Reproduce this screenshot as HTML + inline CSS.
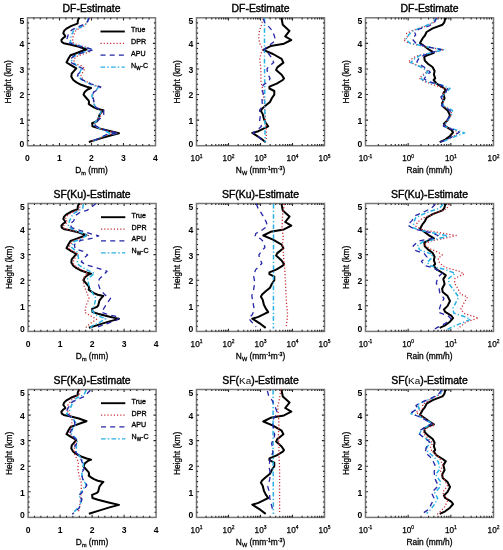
<!DOCTYPE html>
<html><head><meta charset="utf-8"><style>
html,body{margin:0;padding:0;background:#fff;width:503px;height:550px;overflow:hidden}
svg{display:block}
text{font-family:"Liberation Sans", Arial, Helvetica, sans-serif;fill:#000}
.n{font-weight:bold}
.t{stroke:#000;stroke-width:0.4px}
.k{stroke:none;font-size:9.9px}
.g{stroke:#000;stroke-width:0.3px}
.l{stroke:#000;stroke-width:0.28px}
.e{stroke:#000;stroke-width:0.25px}
</style></head><body>
<svg width="503" height="550" viewBox="0 0 503 550">
<rect width="503" height="550" fill="#fff"/>
<rect x="27.5" y="17.8" width="128.0" height="127.9" fill="none" stroke="#787878" stroke-width="1.5"/>
<path d="M27.5,140.58h1.6M155.5,140.58h-1.6M27.5,135.47h1.6M155.5,135.47h-1.6M27.5,130.35h1.6M155.5,130.35h-1.6M27.5,125.24h1.6M155.5,125.24h-1.6M27.5,120.12h2.6M155.5,120.12h-2.6M27.5,115.00h1.6M155.5,115.00h-1.6M27.5,109.89h1.6M155.5,109.89h-1.6M27.5,104.77h1.6M155.5,104.77h-1.6M27.5,99.66h1.6M155.5,99.66h-1.6M27.5,94.54h2.6M155.5,94.54h-2.6M27.5,89.42h1.6M155.5,89.42h-1.6M27.5,84.31h1.6M155.5,84.31h-1.6M27.5,79.19h1.6M155.5,79.19h-1.6M27.5,74.08h1.6M155.5,74.08h-1.6M27.5,68.96h2.6M155.5,68.96h-2.6M27.5,63.84h1.6M155.5,63.84h-1.6M27.5,58.73h1.6M155.5,58.73h-1.6M27.5,53.61h1.6M155.5,53.61h-1.6M27.5,48.50h1.6M155.5,48.50h-1.6M27.5,43.38h2.6M155.5,43.38h-2.6M27.5,38.26h1.6M155.5,38.26h-1.6M27.5,33.15h1.6M155.5,33.15h-1.6M27.5,28.03h1.6M155.5,28.03h-1.6M27.5,22.92h1.6M155.5,22.92h-1.6M33.90,145.70000000000002v-1.6M33.90,17.8v1.6M40.30,145.70000000000002v-1.6M40.30,17.8v1.6M46.70,145.70000000000002v-1.6M46.70,17.8v1.6M53.10,145.70000000000002v-1.6M53.10,17.8v1.6M59.50,145.70000000000002v-2.6M59.50,17.8v2.6M65.90,145.70000000000002v-1.6M65.90,17.8v1.6M72.30,145.70000000000002v-1.6M72.30,17.8v1.6M78.70,145.70000000000002v-1.6M78.70,17.8v1.6M85.10,145.70000000000002v-1.6M85.10,17.8v1.6M91.50,145.70000000000002v-2.6M91.50,17.8v2.6M97.90,145.70000000000002v-1.6M97.90,17.8v1.6M104.30,145.70000000000002v-1.6M104.30,17.8v1.6M110.70,145.70000000000002v-1.6M110.70,17.8v1.6M117.10,145.70000000000002v-1.6M117.10,17.8v1.6M123.50,145.70000000000002v-2.6M123.50,17.8v2.6M129.90,145.70000000000002v-1.6M129.90,17.8v1.6M136.30,145.70000000000002v-1.6M136.30,17.8v1.6M142.70,145.70000000000002v-1.6M142.70,17.8v1.6M149.10,145.70000000000002v-1.6M149.10,17.8v1.6" stroke="#2a2a2a" stroke-width="1.1" fill="none"/>
<text x="91.5" y="11.80" text-anchor="middle" font-size="10.45" class="t">DF-Estimate</text>
<text x="24.3" y="146.70" text-anchor="end" font-size="8.6" class="n">0</text>
<text x="24.3" y="124.02" text-anchor="end" font-size="8.6" class="n">1</text>
<text x="24.3" y="98.44" text-anchor="end" font-size="8.6" class="n">2</text>
<text x="24.3" y="72.86" text-anchor="end" font-size="8.6" class="n">3</text>
<text x="24.3" y="47.28" text-anchor="end" font-size="8.6" class="n">4</text>
<text x="24.3" y="24.30" text-anchor="end" font-size="8.6" class="n">5</text>
<text transform="translate(11.20,81.75) rotate(-90)" text-anchor="middle" font-size="8.4" class="l">Height (km)</text>
<text x="27.50" y="161.00" text-anchor="middle" font-size="8.6" class="n">0</text>
<text x="59.50" y="161.00" text-anchor="middle" font-size="8.6" class="n">1</text>
<text x="91.50" y="161.00" text-anchor="middle" font-size="8.6" class="n">2</text>
<text x="123.50" y="161.00" text-anchor="middle" font-size="8.6" class="n">3</text>
<text x="155.50" y="161.00" text-anchor="middle" font-size="8.6" class="n">4</text>
<text x="91.5" y="173.30" text-anchor="middle" font-size="8.4" class="l">D<tspan font-size="5.5" dy="2">m</tspan><tspan dy="-2"> (mm)</tspan></text>
<rect x="196.5" y="17.8" width="128.0" height="127.9" fill="none" stroke="#787878" stroke-width="1.5"/>
<path d="M196.5,140.58h1.6M324.5,140.58h-1.6M196.5,135.47h1.6M324.5,135.47h-1.6M196.5,130.35h1.6M324.5,130.35h-1.6M196.5,125.24h1.6M324.5,125.24h-1.6M196.5,120.12h2.6M324.5,120.12h-2.6M196.5,115.00h1.6M324.5,115.00h-1.6M196.5,109.89h1.6M324.5,109.89h-1.6M196.5,104.77h1.6M324.5,104.77h-1.6M196.5,99.66h1.6M324.5,99.66h-1.6M196.5,94.54h2.6M324.5,94.54h-2.6M196.5,89.42h1.6M324.5,89.42h-1.6M196.5,84.31h1.6M324.5,84.31h-1.6M196.5,79.19h1.6M324.5,79.19h-1.6M196.5,74.08h1.6M324.5,74.08h-1.6M196.5,68.96h2.6M324.5,68.96h-2.6M196.5,63.84h1.6M324.5,63.84h-1.6M196.5,58.73h1.6M324.5,58.73h-1.6M196.5,53.61h1.6M324.5,53.61h-1.6M196.5,48.50h1.6M324.5,48.50h-1.6M196.5,43.38h2.6M324.5,43.38h-2.6M196.5,38.26h1.6M324.5,38.26h-1.6M196.5,33.15h1.6M324.5,33.15h-1.6M196.5,28.03h1.6M324.5,28.03h-1.6M196.5,22.92h1.6M324.5,22.92h-1.6M206.13,145.70000000000002v-1.6M206.13,17.8v1.6M211.77,145.70000000000002v-1.6M211.77,17.8v1.6M215.77,145.70000000000002v-1.6M215.77,17.8v1.6M218.87,145.70000000000002v-1.6M218.87,17.8v1.6M221.40,145.70000000000002v-1.6M221.40,17.8v1.6M223.54,145.70000000000002v-1.6M223.54,17.8v1.6M225.40,145.70000000000002v-1.6M225.40,17.8v1.6M227.04,145.70000000000002v-1.6M227.04,17.8v1.6M228.50,145.70000000000002v-2.6M228.50,17.8v2.6M238.13,145.70000000000002v-1.6M238.13,17.8v1.6M243.77,145.70000000000002v-1.6M243.77,17.8v1.6M247.77,145.70000000000002v-1.6M247.77,17.8v1.6M250.87,145.70000000000002v-1.6M250.87,17.8v1.6M253.40,145.70000000000002v-1.6M253.40,17.8v1.6M255.54,145.70000000000002v-1.6M255.54,17.8v1.6M257.40,145.70000000000002v-1.6M257.40,17.8v1.6M259.04,145.70000000000002v-1.6M259.04,17.8v1.6M260.50,145.70000000000002v-2.6M260.50,17.8v2.6M270.13,145.70000000000002v-1.6M270.13,17.8v1.6M275.77,145.70000000000002v-1.6M275.77,17.8v1.6M279.77,145.70000000000002v-1.6M279.77,17.8v1.6M282.87,145.70000000000002v-1.6M282.87,17.8v1.6M285.40,145.70000000000002v-1.6M285.40,17.8v1.6M287.54,145.70000000000002v-1.6M287.54,17.8v1.6M289.40,145.70000000000002v-1.6M289.40,17.8v1.6M291.04,145.70000000000002v-1.6M291.04,17.8v1.6M292.50,145.70000000000002v-2.6M292.50,17.8v2.6M302.13,145.70000000000002v-1.6M302.13,17.8v1.6M307.77,145.70000000000002v-1.6M307.77,17.8v1.6M311.77,145.70000000000002v-1.6M311.77,17.8v1.6M314.87,145.70000000000002v-1.6M314.87,17.8v1.6M317.40,145.70000000000002v-1.6M317.40,17.8v1.6M319.54,145.70000000000002v-1.6M319.54,17.8v1.6M321.40,145.70000000000002v-1.6M321.40,17.8v1.6M323.04,145.70000000000002v-1.6M323.04,17.8v1.6" stroke="#2a2a2a" stroke-width="1.1" fill="none"/>
<text x="260.5" y="11.80" text-anchor="middle" font-size="10.45" class="t">DF-Estimate</text>
<text x="193.3" y="146.70" text-anchor="end" font-size="8.6" class="n">0</text>
<text x="193.3" y="124.02" text-anchor="end" font-size="8.6" class="n">1</text>
<text x="193.3" y="98.44" text-anchor="end" font-size="8.6" class="n">2</text>
<text x="193.3" y="72.86" text-anchor="end" font-size="8.6" class="n">3</text>
<text x="193.3" y="47.28" text-anchor="end" font-size="8.6" class="n">4</text>
<text x="193.3" y="24.30" text-anchor="end" font-size="8.6" class="n">5</text>
<text transform="translate(180.20,81.75) rotate(-90)" text-anchor="middle" font-size="8.4" class="l">Height (km)</text>
<text x="196.50" y="161.00" text-anchor="middle" font-size="8.2" class="e">10<tspan font-size="4.9" dy="-3.5">1</tspan></text>
<text x="228.50" y="161.00" text-anchor="middle" font-size="8.2" class="e">10<tspan font-size="4.9" dy="-3.5">2</tspan></text>
<text x="260.50" y="161.00" text-anchor="middle" font-size="8.2" class="e">10<tspan font-size="4.9" dy="-3.5">3</tspan></text>
<text x="292.50" y="161.00" text-anchor="middle" font-size="8.2" class="e">10<tspan font-size="4.9" dy="-3.5">4</tspan></text>
<text x="324.50" y="161.00" text-anchor="middle" font-size="8.2" class="e">10<tspan font-size="4.9" dy="-3.5">5</tspan></text>
<text x="260.5" y="173.30" text-anchor="middle" font-size="8.4" class="l">N<tspan font-size="5.5" dy="2">W</tspan><tspan dy="-2"> (mm</tspan><tspan font-size="5.2" dy="-3">-1</tspan><tspan dy="3">m</tspan><tspan font-size="5.2" dy="-3">-3</tspan><tspan dy="3">)</tspan></text>
<rect x="365.5" y="17.8" width="128.0" height="127.9" fill="none" stroke="#787878" stroke-width="1.5"/>
<path d="M365.5,140.58h1.6M493.5,140.58h-1.6M365.5,135.47h1.6M493.5,135.47h-1.6M365.5,130.35h1.6M493.5,130.35h-1.6M365.5,125.24h1.6M493.5,125.24h-1.6M365.5,120.12h2.6M493.5,120.12h-2.6M365.5,115.00h1.6M493.5,115.00h-1.6M365.5,109.89h1.6M493.5,109.89h-1.6M365.5,104.77h1.6M493.5,104.77h-1.6M365.5,99.66h1.6M493.5,99.66h-1.6M365.5,94.54h2.6M493.5,94.54h-2.6M365.5,89.42h1.6M493.5,89.42h-1.6M365.5,84.31h1.6M493.5,84.31h-1.6M365.5,79.19h1.6M493.5,79.19h-1.6M365.5,74.08h1.6M493.5,74.08h-1.6M365.5,68.96h2.6M493.5,68.96h-2.6M365.5,63.84h1.6M493.5,63.84h-1.6M365.5,58.73h1.6M493.5,58.73h-1.6M365.5,53.61h1.6M493.5,53.61h-1.6M365.5,48.50h1.6M493.5,48.50h-1.6M365.5,43.38h2.6M493.5,43.38h-2.6M365.5,38.26h1.6M493.5,38.26h-1.6M365.5,33.15h1.6M493.5,33.15h-1.6M365.5,28.03h1.6M493.5,28.03h-1.6M365.5,22.92h1.6M493.5,22.92h-1.6M378.34,145.70000000000002v-1.6M378.34,17.8v1.6M385.86,145.70000000000002v-1.6M385.86,17.8v1.6M391.19,145.70000000000002v-1.6M391.19,17.8v1.6M395.32,145.70000000000002v-1.6M395.32,17.8v1.6M398.70,145.70000000000002v-1.6M398.70,17.8v1.6M401.56,145.70000000000002v-1.6M401.56,17.8v1.6M404.03,145.70000000000002v-1.6M404.03,17.8v1.6M406.21,145.70000000000002v-1.6M406.21,17.8v1.6M408.17,145.70000000000002v-2.6M408.17,17.8v2.6M421.01,145.70000000000002v-1.6M421.01,17.8v1.6M428.52,145.70000000000002v-1.6M428.52,17.8v1.6M433.85,145.70000000000002v-1.6M433.85,17.8v1.6M437.99,145.70000000000002v-1.6M437.99,17.8v1.6M441.37,145.70000000000002v-1.6M441.37,17.8v1.6M444.22,145.70000000000002v-1.6M444.22,17.8v1.6M446.70,145.70000000000002v-1.6M446.70,17.8v1.6M448.88,145.70000000000002v-1.6M448.88,17.8v1.6M450.83,145.70000000000002v-2.6M450.83,17.8v2.6M463.68,145.70000000000002v-1.6M463.68,17.8v1.6M471.19,145.70000000000002v-1.6M471.19,17.8v1.6M476.52,145.70000000000002v-1.6M476.52,17.8v1.6M480.66,145.70000000000002v-1.6M480.66,17.8v1.6M484.03,145.70000000000002v-1.6M484.03,17.8v1.6M486.89,145.70000000000002v-1.6M486.89,17.8v1.6M489.37,145.70000000000002v-1.6M489.37,17.8v1.6M491.55,145.70000000000002v-1.6M491.55,17.8v1.6" stroke="#2a2a2a" stroke-width="1.1" fill="none"/>
<text x="429.5" y="11.80" text-anchor="middle" font-size="10.45" class="t">DF-Estimate</text>
<text x="362.3" y="146.70" text-anchor="end" font-size="8.6" class="n">0</text>
<text x="362.3" y="124.02" text-anchor="end" font-size="8.6" class="n">1</text>
<text x="362.3" y="98.44" text-anchor="end" font-size="8.6" class="n">2</text>
<text x="362.3" y="72.86" text-anchor="end" font-size="8.6" class="n">3</text>
<text x="362.3" y="47.28" text-anchor="end" font-size="8.6" class="n">4</text>
<text x="362.3" y="24.30" text-anchor="end" font-size="8.6" class="n">5</text>
<text transform="translate(349.20,81.75) rotate(-90)" text-anchor="middle" font-size="8.4" class="l">Height (km)</text>
<text x="365.50" y="161.00" text-anchor="middle" font-size="8.2" class="e">10<tspan font-size="4.9" dy="-3.5">-1</tspan></text>
<text x="408.17" y="161.00" text-anchor="middle" font-size="8.2" class="e">10<tspan font-size="4.9" dy="-3.5">0</tspan></text>
<text x="450.83" y="161.00" text-anchor="middle" font-size="8.2" class="e">10<tspan font-size="4.9" dy="-3.5">1</tspan></text>
<text x="493.50" y="161.00" text-anchor="middle" font-size="8.2" class="e">10<tspan font-size="4.9" dy="-3.5">2</tspan></text>
<text x="429.5" y="173.30" text-anchor="middle" font-size="8.4" class="l">Rain (mm/h)</text>
<line x1="100.50" y1="31.50" x2="124.80" y2="31.50" stroke="#000" stroke-width="1.9" />
<text x="131.10" y="32.00" font-size="7.1" class="g">True</text>
<line x1="100.50" y1="43.40" x2="124.80" y2="43.40" stroke="#c8303c" stroke-width="1.3" stroke-dasharray="1.2,2"/>
<text x="131.10" y="43.90" font-size="7.1" class="g">DPR</text>
<line x1="100.50" y1="55.10" x2="124.80" y2="55.10" stroke="#2626a8" stroke-width="1.3" stroke-dasharray="5,4.2"/>
<text x="131.10" y="55.60" font-size="7.1" class="g">APU</text>
<line x1="100.50" y1="67.20" x2="124.80" y2="67.20" stroke="#28b0e4" stroke-width="1.2" stroke-dasharray="4.7,2,1.6,2.2"/>
<text x="131.10" y="67.70" font-size="7.1" class="g">N<tspan font-size="4.6" dy="1.8">W</tspan><tspan dy="-1.8">-C</tspan></text>
<rect x="28.1" y="203.5" width="128.0" height="127.9" fill="none" stroke="#787878" stroke-width="1.5"/>
<path d="M28.1,326.28h1.6M156.1,326.28h-1.6M28.1,321.17h1.6M156.1,321.17h-1.6M28.1,316.05h1.6M156.1,316.05h-1.6M28.1,310.94h1.6M156.1,310.94h-1.6M28.1,305.82h2.6M156.1,305.82h-2.6M28.1,300.70h1.6M156.1,300.70h-1.6M28.1,295.59h1.6M156.1,295.59h-1.6M28.1,290.47h1.6M156.1,290.47h-1.6M28.1,285.36h1.6M156.1,285.36h-1.6M28.1,280.24h2.6M156.1,280.24h-2.6M28.1,275.12h1.6M156.1,275.12h-1.6M28.1,270.01h1.6M156.1,270.01h-1.6M28.1,264.89h1.6M156.1,264.89h-1.6M28.1,259.78h1.6M156.1,259.78h-1.6M28.1,254.66h2.6M156.1,254.66h-2.6M28.1,249.54h1.6M156.1,249.54h-1.6M28.1,244.43h1.6M156.1,244.43h-1.6M28.1,239.31h1.6M156.1,239.31h-1.6M28.1,234.20h1.6M156.1,234.20h-1.6M28.1,229.08h2.6M156.1,229.08h-2.6M28.1,223.96h1.6M156.1,223.96h-1.6M28.1,218.85h1.6M156.1,218.85h-1.6M28.1,213.73h1.6M156.1,213.73h-1.6M28.1,208.62h1.6M156.1,208.62h-1.6M34.50,331.4v-1.6M34.50,203.5v1.6M40.90,331.4v-1.6M40.90,203.5v1.6M47.30,331.4v-1.6M47.30,203.5v1.6M53.70,331.4v-1.6M53.70,203.5v1.6M60.10,331.4v-2.6M60.10,203.5v2.6M66.50,331.4v-1.6M66.50,203.5v1.6M72.90,331.4v-1.6M72.90,203.5v1.6M79.30,331.4v-1.6M79.30,203.5v1.6M85.70,331.4v-1.6M85.70,203.5v1.6M92.10,331.4v-2.6M92.10,203.5v2.6M98.50,331.4v-1.6M98.50,203.5v1.6M104.90,331.4v-1.6M104.90,203.5v1.6M111.30,331.4v-1.6M111.30,203.5v1.6M117.70,331.4v-1.6M117.70,203.5v1.6M124.10,331.4v-2.6M124.10,203.5v2.6M130.50,331.4v-1.6M130.50,203.5v1.6M136.90,331.4v-1.6M136.90,203.5v1.6M143.30,331.4v-1.6M143.30,203.5v1.6M149.70,331.4v-1.6M149.70,203.5v1.6" stroke="#2a2a2a" stroke-width="1.1" fill="none"/>
<text x="92.1" y="197.50" text-anchor="middle" font-size="10.45" class="t">SF(Ku)-Estimate</text>
<text x="24.900000000000002" y="332.40" text-anchor="end" font-size="8.6" class="n">0</text>
<text x="24.900000000000002" y="309.72" text-anchor="end" font-size="8.6" class="n">1</text>
<text x="24.900000000000002" y="284.14" text-anchor="end" font-size="8.6" class="n">2</text>
<text x="24.900000000000002" y="258.56" text-anchor="end" font-size="8.6" class="n">3</text>
<text x="24.900000000000002" y="232.98" text-anchor="end" font-size="8.6" class="n">4</text>
<text x="24.900000000000002" y="210.00" text-anchor="end" font-size="8.6" class="n">5</text>
<text transform="translate(11.80,267.45) rotate(-90)" text-anchor="middle" font-size="8.4" class="l">Height (km)</text>
<text x="28.10" y="346.70" text-anchor="middle" font-size="8.6" class="n">0</text>
<text x="60.10" y="346.70" text-anchor="middle" font-size="8.6" class="n">1</text>
<text x="92.10" y="346.70" text-anchor="middle" font-size="8.6" class="n">2</text>
<text x="124.10" y="346.70" text-anchor="middle" font-size="8.6" class="n">3</text>
<text x="156.10" y="346.70" text-anchor="middle" font-size="8.6" class="n">4</text>
<text x="92.1" y="359.00" text-anchor="middle" font-size="8.4" class="l">D<tspan font-size="5.5" dy="2">m</tspan><tspan dy="-2"> (mm)</tspan></text>
<rect x="196.5" y="203.5" width="128.0" height="127.9" fill="none" stroke="#787878" stroke-width="1.5"/>
<path d="M196.5,326.28h1.6M324.5,326.28h-1.6M196.5,321.17h1.6M324.5,321.17h-1.6M196.5,316.05h1.6M324.5,316.05h-1.6M196.5,310.94h1.6M324.5,310.94h-1.6M196.5,305.82h2.6M324.5,305.82h-2.6M196.5,300.70h1.6M324.5,300.70h-1.6M196.5,295.59h1.6M324.5,295.59h-1.6M196.5,290.47h1.6M324.5,290.47h-1.6M196.5,285.36h1.6M324.5,285.36h-1.6M196.5,280.24h2.6M324.5,280.24h-2.6M196.5,275.12h1.6M324.5,275.12h-1.6M196.5,270.01h1.6M324.5,270.01h-1.6M196.5,264.89h1.6M324.5,264.89h-1.6M196.5,259.78h1.6M324.5,259.78h-1.6M196.5,254.66h2.6M324.5,254.66h-2.6M196.5,249.54h1.6M324.5,249.54h-1.6M196.5,244.43h1.6M324.5,244.43h-1.6M196.5,239.31h1.6M324.5,239.31h-1.6M196.5,234.20h1.6M324.5,234.20h-1.6M196.5,229.08h2.6M324.5,229.08h-2.6M196.5,223.96h1.6M324.5,223.96h-1.6M196.5,218.85h1.6M324.5,218.85h-1.6M196.5,213.73h1.6M324.5,213.73h-1.6M196.5,208.62h1.6M324.5,208.62h-1.6M206.13,331.4v-1.6M206.13,203.5v1.6M211.77,331.4v-1.6M211.77,203.5v1.6M215.77,331.4v-1.6M215.77,203.5v1.6M218.87,331.4v-1.6M218.87,203.5v1.6M221.40,331.4v-1.6M221.40,203.5v1.6M223.54,331.4v-1.6M223.54,203.5v1.6M225.40,331.4v-1.6M225.40,203.5v1.6M227.04,331.4v-1.6M227.04,203.5v1.6M228.50,331.4v-2.6M228.50,203.5v2.6M238.13,331.4v-1.6M238.13,203.5v1.6M243.77,331.4v-1.6M243.77,203.5v1.6M247.77,331.4v-1.6M247.77,203.5v1.6M250.87,331.4v-1.6M250.87,203.5v1.6M253.40,331.4v-1.6M253.40,203.5v1.6M255.54,331.4v-1.6M255.54,203.5v1.6M257.40,331.4v-1.6M257.40,203.5v1.6M259.04,331.4v-1.6M259.04,203.5v1.6M260.50,331.4v-2.6M260.50,203.5v2.6M270.13,331.4v-1.6M270.13,203.5v1.6M275.77,331.4v-1.6M275.77,203.5v1.6M279.77,331.4v-1.6M279.77,203.5v1.6M282.87,331.4v-1.6M282.87,203.5v1.6M285.40,331.4v-1.6M285.40,203.5v1.6M287.54,331.4v-1.6M287.54,203.5v1.6M289.40,331.4v-1.6M289.40,203.5v1.6M291.04,331.4v-1.6M291.04,203.5v1.6M292.50,331.4v-2.6M292.50,203.5v2.6M302.13,331.4v-1.6M302.13,203.5v1.6M307.77,331.4v-1.6M307.77,203.5v1.6M311.77,331.4v-1.6M311.77,203.5v1.6M314.87,331.4v-1.6M314.87,203.5v1.6M317.40,331.4v-1.6M317.40,203.5v1.6M319.54,331.4v-1.6M319.54,203.5v1.6M321.40,331.4v-1.6M321.40,203.5v1.6M323.04,331.4v-1.6M323.04,203.5v1.6" stroke="#2a2a2a" stroke-width="1.1" fill="none"/>
<text x="260.5" y="197.50" text-anchor="middle" font-size="10.45" class="t">SF(Ku)-Estimate</text>
<text x="193.3" y="332.40" text-anchor="end" font-size="8.6" class="n">0</text>
<text x="193.3" y="309.72" text-anchor="end" font-size="8.6" class="n">1</text>
<text x="193.3" y="284.14" text-anchor="end" font-size="8.6" class="n">2</text>
<text x="193.3" y="258.56" text-anchor="end" font-size="8.6" class="n">3</text>
<text x="193.3" y="232.98" text-anchor="end" font-size="8.6" class="n">4</text>
<text x="193.3" y="210.00" text-anchor="end" font-size="8.6" class="n">5</text>
<text transform="translate(180.20,267.45) rotate(-90)" text-anchor="middle" font-size="8.4" class="l">Height (km)</text>
<text x="196.50" y="346.70" text-anchor="middle" font-size="8.2" class="e">10<tspan font-size="4.9" dy="-3.5">1</tspan></text>
<text x="228.50" y="346.70" text-anchor="middle" font-size="8.2" class="e">10<tspan font-size="4.9" dy="-3.5">2</tspan></text>
<text x="260.50" y="346.70" text-anchor="middle" font-size="8.2" class="e">10<tspan font-size="4.9" dy="-3.5">3</tspan></text>
<text x="292.50" y="346.70" text-anchor="middle" font-size="8.2" class="e">10<tspan font-size="4.9" dy="-3.5">4</tspan></text>
<text x="324.50" y="346.70" text-anchor="middle" font-size="8.2" class="e">10<tspan font-size="4.9" dy="-3.5">5</tspan></text>
<text x="260.5" y="359.00" text-anchor="middle" font-size="8.4" class="l">N<tspan font-size="5.5" dy="2">W</tspan><tspan dy="-2"> (mm</tspan><tspan font-size="5.2" dy="-3">-1</tspan><tspan dy="3">m</tspan><tspan font-size="5.2" dy="-3">-3</tspan><tspan dy="3">)</tspan></text>
<rect x="365.5" y="203.5" width="128.0" height="127.9" fill="none" stroke="#787878" stroke-width="1.5"/>
<path d="M365.5,326.28h1.6M493.5,326.28h-1.6M365.5,321.17h1.6M493.5,321.17h-1.6M365.5,316.05h1.6M493.5,316.05h-1.6M365.5,310.94h1.6M493.5,310.94h-1.6M365.5,305.82h2.6M493.5,305.82h-2.6M365.5,300.70h1.6M493.5,300.70h-1.6M365.5,295.59h1.6M493.5,295.59h-1.6M365.5,290.47h1.6M493.5,290.47h-1.6M365.5,285.36h1.6M493.5,285.36h-1.6M365.5,280.24h2.6M493.5,280.24h-2.6M365.5,275.12h1.6M493.5,275.12h-1.6M365.5,270.01h1.6M493.5,270.01h-1.6M365.5,264.89h1.6M493.5,264.89h-1.6M365.5,259.78h1.6M493.5,259.78h-1.6M365.5,254.66h2.6M493.5,254.66h-2.6M365.5,249.54h1.6M493.5,249.54h-1.6M365.5,244.43h1.6M493.5,244.43h-1.6M365.5,239.31h1.6M493.5,239.31h-1.6M365.5,234.20h1.6M493.5,234.20h-1.6M365.5,229.08h2.6M493.5,229.08h-2.6M365.5,223.96h1.6M493.5,223.96h-1.6M365.5,218.85h1.6M493.5,218.85h-1.6M365.5,213.73h1.6M493.5,213.73h-1.6M365.5,208.62h1.6M493.5,208.62h-1.6M378.34,331.4v-1.6M378.34,203.5v1.6M385.86,331.4v-1.6M385.86,203.5v1.6M391.19,331.4v-1.6M391.19,203.5v1.6M395.32,331.4v-1.6M395.32,203.5v1.6M398.70,331.4v-1.6M398.70,203.5v1.6M401.56,331.4v-1.6M401.56,203.5v1.6M404.03,331.4v-1.6M404.03,203.5v1.6M406.21,331.4v-1.6M406.21,203.5v1.6M408.17,331.4v-2.6M408.17,203.5v2.6M421.01,331.4v-1.6M421.01,203.5v1.6M428.52,331.4v-1.6M428.52,203.5v1.6M433.85,331.4v-1.6M433.85,203.5v1.6M437.99,331.4v-1.6M437.99,203.5v1.6M441.37,331.4v-1.6M441.37,203.5v1.6M444.22,331.4v-1.6M444.22,203.5v1.6M446.70,331.4v-1.6M446.70,203.5v1.6M448.88,331.4v-1.6M448.88,203.5v1.6M450.83,331.4v-2.6M450.83,203.5v2.6M463.68,331.4v-1.6M463.68,203.5v1.6M471.19,331.4v-1.6M471.19,203.5v1.6M476.52,331.4v-1.6M476.52,203.5v1.6M480.66,331.4v-1.6M480.66,203.5v1.6M484.03,331.4v-1.6M484.03,203.5v1.6M486.89,331.4v-1.6M486.89,203.5v1.6M489.37,331.4v-1.6M489.37,203.5v1.6M491.55,331.4v-1.6M491.55,203.5v1.6" stroke="#2a2a2a" stroke-width="1.1" fill="none"/>
<text x="429.5" y="197.50" text-anchor="middle" font-size="10.45" class="t">SF(Ku)-Estimate</text>
<text x="362.3" y="332.40" text-anchor="end" font-size="8.6" class="n">0</text>
<text x="362.3" y="309.72" text-anchor="end" font-size="8.6" class="n">1</text>
<text x="362.3" y="284.14" text-anchor="end" font-size="8.6" class="n">2</text>
<text x="362.3" y="258.56" text-anchor="end" font-size="8.6" class="n">3</text>
<text x="362.3" y="232.98" text-anchor="end" font-size="8.6" class="n">4</text>
<text x="362.3" y="210.00" text-anchor="end" font-size="8.6" class="n">5</text>
<text transform="translate(349.20,267.45) rotate(-90)" text-anchor="middle" font-size="8.4" class="l">Height (km)</text>
<text x="365.50" y="346.70" text-anchor="middle" font-size="8.2" class="e">10<tspan font-size="4.9" dy="-3.5">-1</tspan></text>
<text x="408.17" y="346.70" text-anchor="middle" font-size="8.2" class="e">10<tspan font-size="4.9" dy="-3.5">0</tspan></text>
<text x="450.83" y="346.70" text-anchor="middle" font-size="8.2" class="e">10<tspan font-size="4.9" dy="-3.5">1</tspan></text>
<text x="493.50" y="346.70" text-anchor="middle" font-size="8.2" class="e">10<tspan font-size="4.9" dy="-3.5">2</tspan></text>
<text x="429.5" y="359.00" text-anchor="middle" font-size="8.4" class="l">Rain (mm/h)</text>
<line x1="101.00" y1="217.20" x2="125.30" y2="217.20" stroke="#000" stroke-width="1.9" />
<text x="131.60" y="217.70" font-size="7.1" class="g">True</text>
<line x1="101.00" y1="229.10" x2="125.30" y2="229.10" stroke="#c8303c" stroke-width="1.3" stroke-dasharray="1.2,2"/>
<text x="131.60" y="229.60" font-size="7.1" class="g">DPR</text>
<line x1="101.00" y1="240.80" x2="125.30" y2="240.80" stroke="#2626a8" stroke-width="1.3" stroke-dasharray="5,4.2"/>
<text x="131.60" y="241.30" font-size="7.1" class="g">APU</text>
<line x1="101.00" y1="252.90" x2="125.30" y2="252.90" stroke="#28b0e4" stroke-width="1.2" stroke-dasharray="4.7,2,1.6,2.2"/>
<text x="131.60" y="253.40" font-size="7.1" class="g">N<tspan font-size="4.6" dy="1.8">W</tspan><tspan dy="-1.8">-C</tspan></text>
<rect x="28.1" y="389.5" width="128.0" height="127.9" fill="none" stroke="#787878" stroke-width="1.5"/>
<path d="M28.1,512.28h1.6M156.1,512.28h-1.6M28.1,507.17h1.6M156.1,507.17h-1.6M28.1,502.05h1.6M156.1,502.05h-1.6M28.1,496.94h1.6M156.1,496.94h-1.6M28.1,491.82h2.6M156.1,491.82h-2.6M28.1,486.70h1.6M156.1,486.70h-1.6M28.1,481.59h1.6M156.1,481.59h-1.6M28.1,476.47h1.6M156.1,476.47h-1.6M28.1,471.36h1.6M156.1,471.36h-1.6M28.1,466.24h2.6M156.1,466.24h-2.6M28.1,461.12h1.6M156.1,461.12h-1.6M28.1,456.01h1.6M156.1,456.01h-1.6M28.1,450.89h1.6M156.1,450.89h-1.6M28.1,445.78h1.6M156.1,445.78h-1.6M28.1,440.66h2.6M156.1,440.66h-2.6M28.1,435.54h1.6M156.1,435.54h-1.6M28.1,430.43h1.6M156.1,430.43h-1.6M28.1,425.31h1.6M156.1,425.31h-1.6M28.1,420.20h1.6M156.1,420.20h-1.6M28.1,415.08h2.6M156.1,415.08h-2.6M28.1,409.96h1.6M156.1,409.96h-1.6M28.1,404.85h1.6M156.1,404.85h-1.6M28.1,399.73h1.6M156.1,399.73h-1.6M28.1,394.62h1.6M156.1,394.62h-1.6M34.50,517.4v-1.6M34.50,389.5v1.6M40.90,517.4v-1.6M40.90,389.5v1.6M47.30,517.4v-1.6M47.30,389.5v1.6M53.70,517.4v-1.6M53.70,389.5v1.6M60.10,517.4v-2.6M60.10,389.5v2.6M66.50,517.4v-1.6M66.50,389.5v1.6M72.90,517.4v-1.6M72.90,389.5v1.6M79.30,517.4v-1.6M79.30,389.5v1.6M85.70,517.4v-1.6M85.70,389.5v1.6M92.10,517.4v-2.6M92.10,389.5v2.6M98.50,517.4v-1.6M98.50,389.5v1.6M104.90,517.4v-1.6M104.90,389.5v1.6M111.30,517.4v-1.6M111.30,389.5v1.6M117.70,517.4v-1.6M117.70,389.5v1.6M124.10,517.4v-2.6M124.10,389.5v2.6M130.50,517.4v-1.6M130.50,389.5v1.6M136.90,517.4v-1.6M136.90,389.5v1.6M143.30,517.4v-1.6M143.30,389.5v1.6M149.70,517.4v-1.6M149.70,389.5v1.6" stroke="#2a2a2a" stroke-width="1.1" fill="none"/>
<text x="92.1" y="383.50" text-anchor="middle" font-size="10.45" class="t">SF(Ka)-Estimate</text>
<text x="24.900000000000002" y="518.40" text-anchor="end" font-size="8.6" class="n">0</text>
<text x="24.900000000000002" y="495.72" text-anchor="end" font-size="8.6" class="n">1</text>
<text x="24.900000000000002" y="470.14" text-anchor="end" font-size="8.6" class="n">2</text>
<text x="24.900000000000002" y="444.56" text-anchor="end" font-size="8.6" class="n">3</text>
<text x="24.900000000000002" y="418.98" text-anchor="end" font-size="8.6" class="n">4</text>
<text x="24.900000000000002" y="396.00" text-anchor="end" font-size="8.6" class="n">5</text>
<text transform="translate(11.80,453.45) rotate(-90)" text-anchor="middle" font-size="8.4" class="l">Height (km)</text>
<text x="28.10" y="532.70" text-anchor="middle" font-size="8.6" class="n">0</text>
<text x="60.10" y="532.70" text-anchor="middle" font-size="8.6" class="n">1</text>
<text x="92.10" y="532.70" text-anchor="middle" font-size="8.6" class="n">2</text>
<text x="124.10" y="532.70" text-anchor="middle" font-size="8.6" class="n">3</text>
<text x="156.10" y="532.70" text-anchor="middle" font-size="8.6" class="n">4</text>
<text x="92.1" y="545.00" text-anchor="middle" font-size="8.4" class="l">D<tspan font-size="5.5" dy="2">m</tspan><tspan dy="-2"> (mm)</tspan></text>
<rect x="196.5" y="389.5" width="128.0" height="127.9" fill="none" stroke="#787878" stroke-width="1.5"/>
<path d="M196.5,512.28h1.6M324.5,512.28h-1.6M196.5,507.17h1.6M324.5,507.17h-1.6M196.5,502.05h1.6M324.5,502.05h-1.6M196.5,496.94h1.6M324.5,496.94h-1.6M196.5,491.82h2.6M324.5,491.82h-2.6M196.5,486.70h1.6M324.5,486.70h-1.6M196.5,481.59h1.6M324.5,481.59h-1.6M196.5,476.47h1.6M324.5,476.47h-1.6M196.5,471.36h1.6M324.5,471.36h-1.6M196.5,466.24h2.6M324.5,466.24h-2.6M196.5,461.12h1.6M324.5,461.12h-1.6M196.5,456.01h1.6M324.5,456.01h-1.6M196.5,450.89h1.6M324.5,450.89h-1.6M196.5,445.78h1.6M324.5,445.78h-1.6M196.5,440.66h2.6M324.5,440.66h-2.6M196.5,435.54h1.6M324.5,435.54h-1.6M196.5,430.43h1.6M324.5,430.43h-1.6M196.5,425.31h1.6M324.5,425.31h-1.6M196.5,420.20h1.6M324.5,420.20h-1.6M196.5,415.08h2.6M324.5,415.08h-2.6M196.5,409.96h1.6M324.5,409.96h-1.6M196.5,404.85h1.6M324.5,404.85h-1.6M196.5,399.73h1.6M324.5,399.73h-1.6M196.5,394.62h1.6M324.5,394.62h-1.6M206.13,517.4v-1.6M206.13,389.5v1.6M211.77,517.4v-1.6M211.77,389.5v1.6M215.77,517.4v-1.6M215.77,389.5v1.6M218.87,517.4v-1.6M218.87,389.5v1.6M221.40,517.4v-1.6M221.40,389.5v1.6M223.54,517.4v-1.6M223.54,389.5v1.6M225.40,517.4v-1.6M225.40,389.5v1.6M227.04,517.4v-1.6M227.04,389.5v1.6M228.50,517.4v-2.6M228.50,389.5v2.6M238.13,517.4v-1.6M238.13,389.5v1.6M243.77,517.4v-1.6M243.77,389.5v1.6M247.77,517.4v-1.6M247.77,389.5v1.6M250.87,517.4v-1.6M250.87,389.5v1.6M253.40,517.4v-1.6M253.40,389.5v1.6M255.54,517.4v-1.6M255.54,389.5v1.6M257.40,517.4v-1.6M257.40,389.5v1.6M259.04,517.4v-1.6M259.04,389.5v1.6M260.50,517.4v-2.6M260.50,389.5v2.6M270.13,517.4v-1.6M270.13,389.5v1.6M275.77,517.4v-1.6M275.77,389.5v1.6M279.77,517.4v-1.6M279.77,389.5v1.6M282.87,517.4v-1.6M282.87,389.5v1.6M285.40,517.4v-1.6M285.40,389.5v1.6M287.54,517.4v-1.6M287.54,389.5v1.6M289.40,517.4v-1.6M289.40,389.5v1.6M291.04,517.4v-1.6M291.04,389.5v1.6M292.50,517.4v-2.6M292.50,389.5v2.6M302.13,517.4v-1.6M302.13,389.5v1.6M307.77,517.4v-1.6M307.77,389.5v1.6M311.77,517.4v-1.6M311.77,389.5v1.6M314.87,517.4v-1.6M314.87,389.5v1.6M317.40,517.4v-1.6M317.40,389.5v1.6M319.54,517.4v-1.6M319.54,389.5v1.6M321.40,517.4v-1.6M321.40,389.5v1.6M323.04,517.4v-1.6M323.04,389.5v1.6" stroke="#2a2a2a" stroke-width="1.1" fill="none"/>
<text x="260.5" y="383.50" text-anchor="middle" font-size="10.45" class="t">SF(<tspan class="k">Ka</tspan>)-Estimate</text>
<text x="193.3" y="518.40" text-anchor="end" font-size="8.6" class="n">0</text>
<text x="193.3" y="495.72" text-anchor="end" font-size="8.6" class="n">1</text>
<text x="193.3" y="470.14" text-anchor="end" font-size="8.6" class="n">2</text>
<text x="193.3" y="444.56" text-anchor="end" font-size="8.6" class="n">3</text>
<text x="193.3" y="418.98" text-anchor="end" font-size="8.6" class="n">4</text>
<text x="193.3" y="396.00" text-anchor="end" font-size="8.6" class="n">5</text>
<text transform="translate(180.20,453.45) rotate(-90)" text-anchor="middle" font-size="8.4" class="l">Height (km)</text>
<text x="196.50" y="532.70" text-anchor="middle" font-size="8.2" class="e">10<tspan font-size="4.9" dy="-3.5">1</tspan></text>
<text x="228.50" y="532.70" text-anchor="middle" font-size="8.2" class="e">10<tspan font-size="4.9" dy="-3.5">2</tspan></text>
<text x="260.50" y="532.70" text-anchor="middle" font-size="8.2" class="e">10<tspan font-size="4.9" dy="-3.5">3</tspan></text>
<text x="292.50" y="532.70" text-anchor="middle" font-size="8.2" class="e">10<tspan font-size="4.9" dy="-3.5">4</tspan></text>
<text x="324.50" y="532.70" text-anchor="middle" font-size="8.2" class="e">10<tspan font-size="4.9" dy="-3.5">5</tspan></text>
<text x="260.5" y="545.00" text-anchor="middle" font-size="8.4" class="l">N<tspan font-size="5.5" dy="2">W</tspan><tspan dy="-2"> (mm</tspan><tspan font-size="5.2" dy="-3">-1</tspan><tspan dy="3">m</tspan><tspan font-size="5.2" dy="-3">-3</tspan><tspan dy="3">)</tspan></text>
<rect x="365.5" y="389.5" width="128.0" height="127.9" fill="none" stroke="#787878" stroke-width="1.5"/>
<path d="M365.5,512.28h1.6M493.5,512.28h-1.6M365.5,507.17h1.6M493.5,507.17h-1.6M365.5,502.05h1.6M493.5,502.05h-1.6M365.5,496.94h1.6M493.5,496.94h-1.6M365.5,491.82h2.6M493.5,491.82h-2.6M365.5,486.70h1.6M493.5,486.70h-1.6M365.5,481.59h1.6M493.5,481.59h-1.6M365.5,476.47h1.6M493.5,476.47h-1.6M365.5,471.36h1.6M493.5,471.36h-1.6M365.5,466.24h2.6M493.5,466.24h-2.6M365.5,461.12h1.6M493.5,461.12h-1.6M365.5,456.01h1.6M493.5,456.01h-1.6M365.5,450.89h1.6M493.5,450.89h-1.6M365.5,445.78h1.6M493.5,445.78h-1.6M365.5,440.66h2.6M493.5,440.66h-2.6M365.5,435.54h1.6M493.5,435.54h-1.6M365.5,430.43h1.6M493.5,430.43h-1.6M365.5,425.31h1.6M493.5,425.31h-1.6M365.5,420.20h1.6M493.5,420.20h-1.6M365.5,415.08h2.6M493.5,415.08h-2.6M365.5,409.96h1.6M493.5,409.96h-1.6M365.5,404.85h1.6M493.5,404.85h-1.6M365.5,399.73h1.6M493.5,399.73h-1.6M365.5,394.62h1.6M493.5,394.62h-1.6M378.34,517.4v-1.6M378.34,389.5v1.6M385.86,517.4v-1.6M385.86,389.5v1.6M391.19,517.4v-1.6M391.19,389.5v1.6M395.32,517.4v-1.6M395.32,389.5v1.6M398.70,517.4v-1.6M398.70,389.5v1.6M401.56,517.4v-1.6M401.56,389.5v1.6M404.03,517.4v-1.6M404.03,389.5v1.6M406.21,517.4v-1.6M406.21,389.5v1.6M408.17,517.4v-2.6M408.17,389.5v2.6M421.01,517.4v-1.6M421.01,389.5v1.6M428.52,517.4v-1.6M428.52,389.5v1.6M433.85,517.4v-1.6M433.85,389.5v1.6M437.99,517.4v-1.6M437.99,389.5v1.6M441.37,517.4v-1.6M441.37,389.5v1.6M444.22,517.4v-1.6M444.22,389.5v1.6M446.70,517.4v-1.6M446.70,389.5v1.6M448.88,517.4v-1.6M448.88,389.5v1.6M450.83,517.4v-2.6M450.83,389.5v2.6M463.68,517.4v-1.6M463.68,389.5v1.6M471.19,517.4v-1.6M471.19,389.5v1.6M476.52,517.4v-1.6M476.52,389.5v1.6M480.66,517.4v-1.6M480.66,389.5v1.6M484.03,517.4v-1.6M484.03,389.5v1.6M486.89,517.4v-1.6M486.89,389.5v1.6M489.37,517.4v-1.6M489.37,389.5v1.6M491.55,517.4v-1.6M491.55,389.5v1.6" stroke="#2a2a2a" stroke-width="1.1" fill="none"/>
<text x="429.5" y="383.50" text-anchor="middle" font-size="10.45" class="t">SF(<tspan class="k">Ka</tspan>)-Estimate</text>
<text x="362.3" y="518.40" text-anchor="end" font-size="8.6" class="n">0</text>
<text x="362.3" y="495.72" text-anchor="end" font-size="8.6" class="n">1</text>
<text x="362.3" y="470.14" text-anchor="end" font-size="8.6" class="n">2</text>
<text x="362.3" y="444.56" text-anchor="end" font-size="8.6" class="n">3</text>
<text x="362.3" y="418.98" text-anchor="end" font-size="8.6" class="n">4</text>
<text x="362.3" y="396.00" text-anchor="end" font-size="8.6" class="n">5</text>
<text transform="translate(349.20,453.45) rotate(-90)" text-anchor="middle" font-size="8.4" class="l">Height (km)</text>
<text x="365.50" y="532.70" text-anchor="middle" font-size="8.2" class="e">10<tspan font-size="4.9" dy="-3.5">-1</tspan></text>
<text x="408.17" y="532.70" text-anchor="middle" font-size="8.2" class="e">10<tspan font-size="4.9" dy="-3.5">0</tspan></text>
<text x="450.83" y="532.70" text-anchor="middle" font-size="8.2" class="e">10<tspan font-size="4.9" dy="-3.5">1</tspan></text>
<text x="493.50" y="532.70" text-anchor="middle" font-size="8.2" class="e">10<tspan font-size="4.9" dy="-3.5">2</tspan></text>
<text x="429.5" y="545.00" text-anchor="middle" font-size="8.4" class="l">Rain (mm/h)</text>
<line x1="101.00" y1="403.20" x2="125.30" y2="403.20" stroke="#000" stroke-width="1.9" />
<text x="131.60" y="403.70" font-size="7.1" class="g">True</text>
<line x1="101.00" y1="415.10" x2="125.30" y2="415.10" stroke="#c8303c" stroke-width="1.3" stroke-dasharray="1.2,2"/>
<text x="131.60" y="415.60" font-size="7.1" class="g">DPR</text>
<line x1="101.00" y1="426.80" x2="125.30" y2="426.80" stroke="#2626a8" stroke-width="1.3" stroke-dasharray="5,4.2"/>
<text x="131.60" y="427.30" font-size="7.1" class="g">APU</text>
<line x1="101.00" y1="438.90" x2="125.30" y2="438.90" stroke="#28b0e4" stroke-width="1.2" stroke-dasharray="4.7,2,1.6,2.2"/>
<text x="131.60" y="439.40" font-size="7.1" class="g">N<tspan font-size="4.6" dy="1.8">W</tspan><tspan dy="-1.8">-C</tspan></text>
<polyline points="79.3,17.8 78.1,19.8 77.7,21.4 77.7,23.3 76.1,24.1 70.9,26.1 66.1,28.9 64.1,30.9 63.3,33.3 64.9,35.3 65.3,36.5 63.0,38.1 61.4,40.0 61.8,42.0 63.7,43.2 70.9,44.8 78.9,46.8 86.5,49.5 82.0,51.0 74.9,53.7 70.5,55.3 68.5,58.5 66.5,62.5 70.5,64.9 76.3,68.3 74.5,70.4 71.7,73.6 71.3,76.8 73.3,80.0 76.5,82.4 81.1,84.8 86.7,86.8 91.1,88.0 87.5,89.5 84.7,91.9 83.5,94.7 85.9,97.5 88.7,100.7 89.1,102.3 88.7,103.9 90.7,105.4 93.9,107.4 97.8,109.0 103.4,110.2 101.8,111.8 99.4,115.0 98.2,119.8 97.0,121.2 92.1,123.2 92.5,126.3 97.9,128.1 108.6,130.8 119.0,133.2 109.5,135.7 100.6,138.4 88.9,142.0" fill="none" stroke="#000" stroke-width="2" stroke-linejoin="round"/>
<polyline points="281.6,18.0 281.6,18.7 282.8,24.8 289.5,30.9 285.2,36.3 291.3,40.0 284.0,43.7 270.6,46.1 263.3,49.8 273.0,54.0 281.6,58.9 283.4,62.6 277.3,67.4 276.1,69.9 281.6,74.8 284.0,78.4 282.8,80.0 276.7,83.7 269.4,86.7 269.4,88.5 274.3,91.0 274.3,94.6 271.8,98.3 270.0,102.0 265.7,105.6 262.1,108.7 260.9,111.1 262.7,114.1 263.9,119.0 265.7,122.7 268.2,126.3 264.5,128.2 258.4,131.2 252.3,133.0 255.4,134.9 260.9,138.5 265.7,142.2" fill="none" stroke="#000" stroke-width="2" stroke-linejoin="round"/>
<polyline points="445.5,18.0 444.3,22.3 442.5,24.7 432.7,28.4 426.6,32.0 424.8,35.7 422.4,38.7 420.0,43.0 424.2,46.0 429.1,49.7 433.9,52.7 427.3,55.2 424.2,57.0 424.8,60.6 427.9,63.7 432.7,67.3 434.6,71.0 433.9,74.6 435.2,78.3 433.6,80.0 436.6,83.7 442.7,87.3 445.8,89.7 443.3,93.4 444.6,98.3 442.1,103.1 442.7,106.2 447.6,110.4 450.0,115.3 447.6,120.2 443.9,123.8 445.2,126.2 451.2,129.9 453.1,132.3 450.0,136.0 445.2,139.6 439.7,142.1" fill="none" stroke="#000" stroke-width="2" stroke-linejoin="round"/>
<polyline points="79.3,203.5 78.1,205.5 77.7,207.1 77.7,209.0 76.1,209.8 70.9,211.8 66.1,214.6 64.1,216.6 63.3,219.0 64.9,221.0 65.3,222.2 63.0,223.8 61.4,225.7 61.8,227.7 63.7,228.9 70.9,230.5 78.9,232.5 86.5,235.2 82.0,236.7 74.9,239.4 70.5,241.0 68.5,244.2 66.5,248.2 70.5,250.6 76.3,254.0 74.5,256.1 71.7,259.3 71.3,262.5 73.3,265.7 76.5,268.1 81.1,270.5 86.7,272.5 91.1,273.7 87.5,275.2 84.7,277.6 83.5,280.4 85.9,283.2 88.7,286.4 89.1,288.0 88.7,289.6 90.7,291.1 93.9,293.1 97.8,294.7 103.4,295.9 101.8,297.5 99.4,300.7 98.2,305.5 97.0,306.9 92.1,308.9 92.5,312.0 97.9,313.8 108.6,316.5 119.0,318.9 109.5,321.4 100.6,324.1 88.9,327.7" fill="none" stroke="#000" stroke-width="2" stroke-linejoin="round"/>
<polyline points="281.6,203.7 281.6,204.4 282.8,210.5 289.5,216.6 285.2,222.0 291.3,225.7 284.0,229.4 270.6,231.8 263.3,235.5 273.0,239.7 281.6,244.6 283.4,248.3 277.3,253.1 276.1,255.6 281.6,260.5 284.0,264.1 282.8,265.7 276.7,269.4 269.4,272.4 269.4,274.2 274.3,276.7 274.3,280.3 271.8,284.0 270.0,287.7 265.7,291.3 262.1,294.4 260.9,296.8 262.7,299.8 263.9,304.7 265.7,308.4 268.2,312.0 264.5,313.9 258.4,316.9 252.3,318.7 255.4,320.6 260.9,324.2 265.7,327.9" fill="none" stroke="#000" stroke-width="2" stroke-linejoin="round"/>
<polyline points="445.5,203.7 444.3,208.0 442.5,210.4 432.7,214.1 426.6,217.7 424.8,221.4 422.4,224.4 420.0,228.7 424.2,231.7 429.1,235.4 433.9,238.4 427.3,240.9 424.2,242.7 424.8,246.3 427.9,249.4 432.7,253.0 434.6,256.7 433.9,260.3 435.2,264.0 433.6,265.7 436.6,269.4 442.7,273.0 445.8,275.4 443.3,279.1 444.6,284.0 442.1,288.8 442.7,291.9 447.6,296.1 450.0,301.0 447.6,305.9 443.9,309.5 445.2,311.9 451.2,315.6 453.1,318.0 450.0,321.7 445.2,325.3 439.7,327.8" fill="none" stroke="#000" stroke-width="2" stroke-linejoin="round"/>
<polyline points="79.3,389.5 78.1,391.5 77.7,393.1 77.7,395.0 76.1,395.8 70.9,397.8 66.1,400.6 64.1,402.6 63.3,405.0 64.9,407.0 65.3,408.2 63.0,409.8 61.4,411.7 61.8,413.7 63.7,414.9 70.9,416.5 78.9,418.5 86.5,421.2 82.0,422.7 74.9,425.4 70.5,427.0 68.5,430.2 66.5,434.2 70.5,436.6 76.3,440.0 74.5,442.1 71.7,445.3 71.3,448.5 73.3,451.7 76.5,454.1 81.1,456.5 86.7,458.5 91.1,459.7 87.5,461.2 84.7,463.6 83.5,466.4 85.9,469.2 88.7,472.4 89.1,474.0 88.7,475.6 90.7,477.1 93.9,479.1 97.8,480.7 103.4,481.9 101.8,483.5 99.4,486.7 98.2,491.5 97.0,492.9 92.1,494.9 92.5,498.0 97.9,499.8 108.6,502.5 119.0,504.9 109.5,507.4 100.6,510.1 88.9,513.7" fill="none" stroke="#000" stroke-width="2" stroke-linejoin="round"/>
<polyline points="281.6,389.7 281.6,390.4 282.8,396.5 289.5,402.6 285.2,408.0 291.3,411.7 284.0,415.4 270.6,417.8 263.3,421.5 273.0,425.7 281.6,430.6 283.4,434.3 277.3,439.1 276.1,441.6 281.6,446.5 284.0,450.1 282.8,451.7 276.7,455.4 269.4,458.4 269.4,460.2 274.3,462.7 274.3,466.3 271.8,470.0 270.0,473.7 265.7,477.3 262.1,480.4 260.9,482.8 262.7,485.8 263.9,490.7 265.7,494.4 268.2,498.0 264.5,499.9 258.4,502.9 252.3,504.7 255.4,506.6 260.9,510.2 265.7,513.9" fill="none" stroke="#000" stroke-width="2" stroke-linejoin="round"/>
<polyline points="445.5,389.7 444.3,394.0 442.5,396.4 432.7,400.1 426.6,403.7 424.8,407.4 422.4,410.4 420.0,414.7 424.2,417.7 429.1,421.4 433.9,424.4 427.3,426.9 424.2,428.7 424.8,432.3 427.9,435.4 432.7,439.0 434.6,442.7 433.9,446.3 435.2,450.0 433.6,451.7 436.6,455.4 442.7,459.0 445.8,461.4 443.3,465.1 444.6,470.0 442.1,474.8 442.7,477.9 447.6,482.1 450.0,487.0 447.6,491.9 443.9,495.5 445.2,497.9 451.2,501.6 453.1,504.0 450.0,507.7 445.2,511.3 439.7,513.8" fill="none" stroke="#000" stroke-width="2" stroke-linejoin="round"/>
<polyline points="89.8,18.1 84.9,25.4 75.9,30.3 73.1,35.9 72.4,42.1 75.9,44.2 89.1,48.4 91.2,51.2 75.9,56.7 73.8,59.5 74.5,63.7 81.4,65.8 84.9,68.6 82.8,72.1 80.7,76.2 84.2,80.4 91.2,84.0 98.4,86.9 96.5,89.9 93.6,92.3 92.5,95.9 93.6,99.5 94.2,104.2 96.0,107.8 99.7,109.0 102.0,111.5 100.5,116.0 98.3,118.0 95.5,122.0 94.5,124.5 96.5,127.0 101.0,129.0 110.4,131.5 117.0,133.2 108.0,134.8 101.0,137.5 92.0,141.5" fill="none" stroke="#c8303c" stroke-width="1.3" stroke-dasharray="1.2,2" stroke-linejoin="round"/>
<polyline points="88.4,18.1 87.0,23.3 82.8,26.1 73.8,30.3 71.0,35.9 70.3,42.1 75.9,44.9 91.2,49.1 82.8,52.6 73.1,56.7 71.7,60.9 75.9,65.1 81.4,68.6 79.4,73.4 78.0,76.2 82.8,80.4 90.0,84.0 98.4,86.9 96.5,89.9 93.0,92.3 91.8,95.9 93.2,99.5 94.0,104.2 96.0,107.8 99.5,109.0 101.0,111.6 99.0,117.0 96.5,120.5 93.4,124.5 96.0,127.0 101.0,129.0 110.4,133.5 116.0,133.5 106.8,134.5 102.4,136.6 93.4,141.1" fill="none" stroke="#28b0e4" stroke-width="1.5" stroke-dasharray="4.6,2.2,1.2,2.2" stroke-linejoin="round"/>
<polyline points="89.1,18.1 87.7,21.3 84.9,24.0 78.0,26.8 72.4,29.6 68.9,32.4 67.5,37.3 66.8,39.4 68.9,42.8 80.0,46.3 94.0,49.8 82.8,52.6 74.5,55.4 70.3,59.5 71.7,63.0 77.3,65.8 82.8,68.6 82.1,70.7 78.0,74.1 77.3,76.9 82.1,79.7 91.2,84.0 100.8,86.9 97.2,89.9 93.6,92.3 91.8,95.9 93.6,99.5 94.2,104.2 96.0,107.8 99.7,108.6 103.7,110.7 103.7,114.7 101.9,117.0 97.9,120.5 94.8,123.7 95.7,125.9 100.6,128.6 110.4,131.3 118.5,133.0 106.8,134.5 100.6,137.5 91.6,141.5" fill="none" stroke="#2626a8" stroke-width="1.3" stroke-dasharray="5,4.2" stroke-linejoin="round"/>
<polyline points="81.3,203.8 80.1,205.8 79.7,207.4 79.7,209.3 78.1,210.1 72.9,212.1 68.1,214.9 66.1,216.9 65.3,219.3 66.9,221.3 67.3,222.5 65.0,224.1 63.4,226.0 63.8,228.0 65.7,229.2 72.9,230.8 80.9,232.8 88.5,235.5 84.0,237.0 76.9,239.7 72.5,241.3 70.5,244.5 68.5,248.5 72.5,250.9 78.3,254.3 76.5,256.4 73.7,259.6 73.3,262.8 73.7,265.0 80.6,269.2 87.6,273.3 82.7,278.9 84.1,285.9 86.9,292.8 89.0,298.4 86.2,305.4 84.8,312.3 91.7,316.5 96.6,319.3 90.4,323.4 84.8,328.3" fill="none" stroke="#c8303c" stroke-width="1.3" stroke-dasharray="1.2,2" stroke-linejoin="round"/>
<polyline points="83.4,204.2 82.7,208.3 73.0,213.9 69.5,220.9 68.1,226.4 73.7,229.9 87.6,234.8 80.6,239.0 73.7,241.7 71.6,247.3 77.8,252.9 78.5,258.4 77.1,262.6 79.2,265.4 86.9,269.9 94.5,273.3 87.6,278.9 89.0,285.9 91.7,291.4 95.9,298.4 94.5,304.0 92.4,310.9 95.9,315.1 105.7,318.6 100.1,322.1 91.7,326.2 90.4,328.3" fill="none" stroke="#28b0e4" stroke-width="1.5" stroke-dasharray="4.6,2.2,1.2,2.2" stroke-linejoin="round"/>
<polyline points="95.9,203.5 91.7,207.0 86.9,210.4 79.9,212.5 75.7,215.3 73.7,220.9 69.5,224.4 72.3,227.8 80.6,230.6 91.7,234.1 98.7,235.9 91.7,238.3 80.6,240.4 74.4,244.5 75.0,248.7 83.4,251.5 87.6,255.0 83.4,258.4 81.3,261.9 86.2,265.0 94.5,267.1 107.1,271.3 102.9,275.4 99.4,278.9 98.0,283.1 100.1,289.4 105.0,294.9 110.5,298.4 105.7,305.4 101.5,312.3 109.8,315.1 119.6,317.2 116.8,320.0 105.7,324.1 95.9,327.6" fill="none" stroke="#2626a8" stroke-width="1.3" stroke-dasharray="5,4.2" stroke-linejoin="round"/>
<polyline points="79.9,390.2 79.2,394.3 71.6,399.9 68.1,404.8 67.4,410.4 70.9,415.9 72.3,420.8 70.9,427.7 69.5,433.3 76.4,440.3 74.4,445.8 74.4,451.4 75.0,455.2 78.5,462.1 77.8,469.1 79.2,476.0 81.3,483.0 81.3,490.0 80.6,496.9 79.9,503.9 79.2,509.4 77.8,512.9" fill="none" stroke="#c8303c" stroke-width="1.3" stroke-dasharray="1.2,2" stroke-linejoin="round"/>
<polyline points="86.2,390.2 84.1,394.3 73.7,399.9 70.9,406.9 70.2,409.7 66.7,413.8 72.3,418.0 76.4,423.6 73.0,427.7 70.9,433.3 77.8,440.3 76.4,444.4 76.4,451.4 79.9,456.6 83.4,462.1 83.4,467.7 82.0,471.9 82.0,478.8 86.2,484.4 82.7,490.0 79.2,495.5 81.3,501.1 79.2,506.7 73.7,512.2" fill="none" stroke="#28b0e4" stroke-width="1.5" stroke-dasharray="4.6,2.2,1.2,2.2" stroke-linejoin="round"/>
<polyline points="90.4,390.2 87.6,393.0 84.8,396.4 77.8,399.2 70.9,402.7 68.8,406.9 66.0,411.7 69.5,415.9 74.4,420.8 75.0,425.7 70.9,430.5 70.2,434.0 75.7,438.9 77.8,441.7 75.0,445.8 74.4,450.0 75.7,452.1 79.9,456.6 82.7,463.5 84.1,469.1 81.3,473.3 82.7,478.8 86.9,485.1 82.0,492.7 78.5,495.5 82.0,499.0 80.6,503.9 79.2,508.1 74.4,512.2 72.3,514.3" fill="none" stroke="#2626a8" stroke-width="1.3" stroke-dasharray="5,4.2" stroke-linejoin="round"/>
<polyline points="263.3,18.7 261.5,24.8 259.4,30.9 258.7,37.0 259.6,43.0 262.7,49.1 260.9,54.0 259.6,60.1 260.6,66.2 260.9,72.3 260.9,80.9 263.3,92.2 264.5,104.4 265.1,116.6 266.3,128.8 266.3,141.0" fill="none" stroke="#c8303c" stroke-width="1.3" stroke-dasharray="1.2,2" stroke-linejoin="round"/>
<polyline points="264.5,18.0 264.5,60.0 264.8,100.0 265.1,142.2" fill="none" stroke="#28b0e4" stroke-width="1.5" stroke-dasharray="4.6,2.2,1.2,2.2" stroke-linejoin="round"/>
<polyline points="263.3,18.7 265.1,23.5 268.2,26.0 272.4,30.9 274.3,35.7 275.5,40.6 270.6,44.3 265.7,47.9 263.9,50.4 268.8,54.0 272.4,58.9 273.7,62.6 270.6,65.0 267.0,68.7 267.6,73.5 270.0,78.4 268.8,81.5 263.3,84.9 261.5,89.1 263.3,93.4 262.1,98.3 262.1,102.0 262.7,106.2 259.6,109.9 260.2,116.6 259.6,121.5 261.5,126.3 257.2,130.0 252.9,133.0 258.4,136.7 263.3,141.6" fill="none" stroke="#2626a8" stroke-width="1.3" stroke-dasharray="5,4.2" stroke-linejoin="round"/>
<polyline points="284.4,204.0 282.6,214.6 282.0,229.2 283.2,236.5 282.6,243.8 283.2,251.1 283.8,260.8 284.5,265.0 285.2,277.4 285.8,289.7 286.4,302.1 287.6,314.5 287.0,320.7 285.8,328.1" fill="none" stroke="#c8303c" stroke-width="1.3" stroke-dasharray="1.2,2" stroke-linejoin="round"/>
<polyline points="273.5,204.0 273.5,266.0 273.4,328.5" fill="none" stroke="#28b0e4" stroke-width="1.5" stroke-dasharray="4.6,2.2,1.2,2.2" stroke-linejoin="round"/>
<polyline points="256.4,203.7 258.3,209.1 260.7,212.2 263.7,217.0 266.2,221.9 267.4,226.2 262.5,229.8 255.8,233.5 255.2,235.9 260.7,238.9 263.7,242.0 264.9,247.5 261.9,250.5 258.9,254.8 259.5,258.4 261.9,263.3 260.4,265.0 255.5,269.9 253.6,276.1 254.8,282.3 253.6,289.7 251.8,295.9 253.0,302.1 254.2,309.5 252.4,314.5 248.7,318.2 251.1,321.3 256.1,326.9" fill="none" stroke="#2626a8" stroke-width="1.3" stroke-dasharray="5,4.2" stroke-linejoin="round"/>
<polyline points="280.8,389.7 279.6,398.2 277.7,406.7 278.3,414.0 278.9,421.3 278.7,429.8 278.3,437.1 278.9,444.4 278.9,452.3 279.6,470.0 279.6,514.0" fill="none" stroke="#c8303c" stroke-width="1.3" stroke-dasharray="1.2,2" stroke-linejoin="round"/>
<polyline points="273.1,390.0 273.1,452.0 273.4,514.1" fill="none" stroke="#28b0e4" stroke-width="1.5" stroke-dasharray="4.6,2.2,1.2,2.2" stroke-linejoin="round"/>
<polyline points="267.4,390.9 268.6,395.7 272.3,400.6 275.3,407.3 277.7,413.4 274.1,417.6 272.3,422.5 273.5,428.6 274.7,434.7 274.1,438.3 271.6,443.2 272.3,446.8 272.9,452.3 271.5,456.0 269.7,460.9 269.1,467.1 270.3,473.3 269.7,479.5 267.8,486.9 269.7,493.1 269.7,498.0 270.9,503.0 272.2,507.9 273.4,512.9" fill="none" stroke="#2626a8" stroke-width="1.3" stroke-dasharray="5,4.2" stroke-linejoin="round"/>
<polyline points="438.2,18.0 434.0,22.3 424.2,26.6 413.3,30.2 406.6,33.3 407.2,36.9 403.5,40.0 408.4,43.0 424.2,46.6 443.7,49.7 431.5,52.7 419.3,55.2 413.3,57.6 408.4,61.9 413.3,63.7 421.8,67.3 427.9,71.0 423.0,74.6 419.3,78.3 424.2,81.3 431.2,84.0 441.5,87.5 447.5,90.0 444.0,93.0 441.5,97.0 443.5,101.5 442.5,105.6 451.5,110.4 451.0,115.3 447.6,120.2 443.9,126.2 455.0,130.0 457.3,132.3 454.0,136.0 447.0,139.6 441.0,142.1" fill="none" stroke="#c8303c" stroke-width="1.3" stroke-dasharray="1.2,2" stroke-linejoin="round"/>
<polyline points="437.0,18.0 431.5,23.5 421.8,27.2 413.3,30.8 409.0,34.5 406.0,39.3 409.6,43.0 425.4,46.6 443.7,49.7 431.5,52.7 420.6,55.2 414.5,58.8 410.8,62.5 415.7,64.9 424.2,68.5 427.9,72.2 423.0,75.8 421.2,78.9 425.4,81.3 441.5,84.9 450.0,88.5 446.4,92.2 441.5,97.0 443.9,101.3 442.7,105.6 452.5,110.4 451.2,115.3 447.6,120.2 443.9,126.2 456.1,129.9 464.6,132.9 456.1,136.0 447.6,139.6 441.5,142.1" fill="none" stroke="#28b0e4" stroke-width="1.5" stroke-dasharray="4.6,2.2,1.2,2.2" stroke-linejoin="round"/>
<polyline points="436.4,18.0 434.6,22.3 429.1,26.0 419.3,29.0 414.5,32.0 415.7,35.1 412.0,38.7 415.7,43.0 426.6,46.6 441.2,49.7 431.5,52.7 425.4,54.6 419.3,57.6 416.9,61.9 420.6,64.9 426.6,68.5 430.3,72.2 426.6,75.2 424.2,78.9 427.9,81.3 440.3,84.9 447.6,88.5 445.8,92.2 440.9,97.0 443.3,101.9 441.5,105.6 450.0,110.4 450.6,115.3 447.0,120.2 443.3,126.2 453.7,129.9 459.2,132.3 453.7,136.0 446.4,139.6 440.3,142.1" fill="none" stroke="#2626a8" stroke-width="1.3" stroke-dasharray="5,4.2" stroke-linejoin="round"/>
<polyline points="449.3,204.2 446.5,209.0 434.0,213.9 422.8,218.1 417.3,222.3 415.9,226.4 422.8,229.9 443.7,233.4 456.2,235.5 445.1,238.3 429.8,241.1 424.2,244.5 429.8,248.7 438.1,252.2 442.3,255.0 438.1,258.4 439.5,262.6 443.0,266.1 446.7,267.8 459.3,271.3 464.1,274.0 455.1,278.2 454.4,283.1 457.9,288.7 460.7,294.2 467.6,297.0 463.4,304.0 460.7,309.5 464.8,313.7 478.5,318.0 466.2,322.1 460.7,326.2 457.9,329.0" fill="none" stroke="#c8303c" stroke-width="1.3" stroke-dasharray="1.2,2" stroke-linejoin="round"/>
<polyline points="443.0,204.2 439.5,208.3 427.0,212.5 415.9,217.4 413.8,222.3 413.1,227.8 421.4,230.6 439.5,234.1 447.9,236.2 436.7,239.0 422.8,241.7 417.3,245.9 420.0,250.1 432.6,254.3 431.2,258.4 427.0,262.6 431.2,266.1 444.0,269.2 455.1,273.3 448.1,278.9 449.5,284.5 453.7,290.0 458.6,297.0 455.8,302.6 453.0,308.1 453.7,313.0 466.2,317.2 470.4,319.3 460.7,323.4 450.9,327.6 446.7,329.7" fill="none" stroke="#28b0e4" stroke-width="1.5" stroke-dasharray="4.6,2.2,1.2,2.2" stroke-linejoin="round"/>
<polyline points="435.4,204.2 431.2,208.3 422.8,212.5 415.9,215.3 411.7,220.9 407.5,225.0 414.5,229.2 431.2,232.7 438.1,235.5 432.6,238.3 418.7,241.1 413.1,245.9 414.5,250.1 424.2,253.6 427.0,257.1 421.4,261.2 424.2,265.4 432.8,267.8 442.6,272.7 437.7,277.5 436.3,283.1 439.1,288.7 439.8,292.8 444.0,298.4 440.5,305.4 438.4,312.3 448.1,315.8 450.9,318.6 445.4,323.4 437.0,327.6 434.9,329.0" fill="none" stroke="#2626a8" stroke-width="1.3" stroke-dasharray="5,4.2" stroke-linejoin="round"/>
<polyline points="443.0,390.2 440.0,394.3 429.8,399.9 422.8,404.1 422.8,408.3 415.9,412.4 421.4,415.9 427.0,420.8 434.7,425.0 424.2,429.1 423.5,433.3 428.4,438.9 432.6,443.1 430.5,447.2 431.9,451.4 439.8,458.0 442.6,464.9 440.5,471.9 444.0,478.8 447.4,485.8 442.6,492.7 448.1,499.7 444.7,506.7 439.8,512.2 437.0,514.3" fill="none" stroke="#c8303c" stroke-width="1.3" stroke-dasharray="1.2,2" stroke-linejoin="round"/>
<polyline points="442.3,390.2 439.5,394.3 431.2,398.5 424.2,401.3 417.3,404.8 419.4,408.3 413.1,411.7 411.0,413.8 418.0,415.9 424.9,419.4 432.6,423.6 427.0,426.4 421.4,430.5 419.4,434.0 424.2,437.5 430.5,441.7 428.4,445.1 426.3,448.6 427.7,451.4 434.9,458.0 438.4,462.1 439.8,469.1 435.6,474.7 440.5,481.6 439.8,487.2 434.9,492.7 437.7,498.3 434.9,503.9 430.7,509.4 426.6,513.6" fill="none" stroke="#28b0e4" stroke-width="1.5" stroke-dasharray="4.6,2.2,1.2,2.2" stroke-linejoin="round"/>
<polyline points="441.5,390.2 438.5,394.3 430.5,398.5 423.5,401.3 415.9,405.5 418.0,408.3 411.7,412.4 412.0,414.0 417.5,416.0 424.5,419.4 432.0,423.6 426.0,426.4 420.0,430.5 418.7,433.3 423.5,437.5 429.5,441.7 427.5,445.1 426.3,447.2 425.2,452.4 431.4,458.0 434.9,464.9 434.2,471.9 434.9,478.8 438.4,485.8 431.4,492.7 434.2,498.3 431.4,503.9 428.7,509.4 422.4,513.6" fill="none" stroke="#2626a8" stroke-width="1.3" stroke-dasharray="5,4.2" stroke-linejoin="round"/>
</svg>
</body></html>
